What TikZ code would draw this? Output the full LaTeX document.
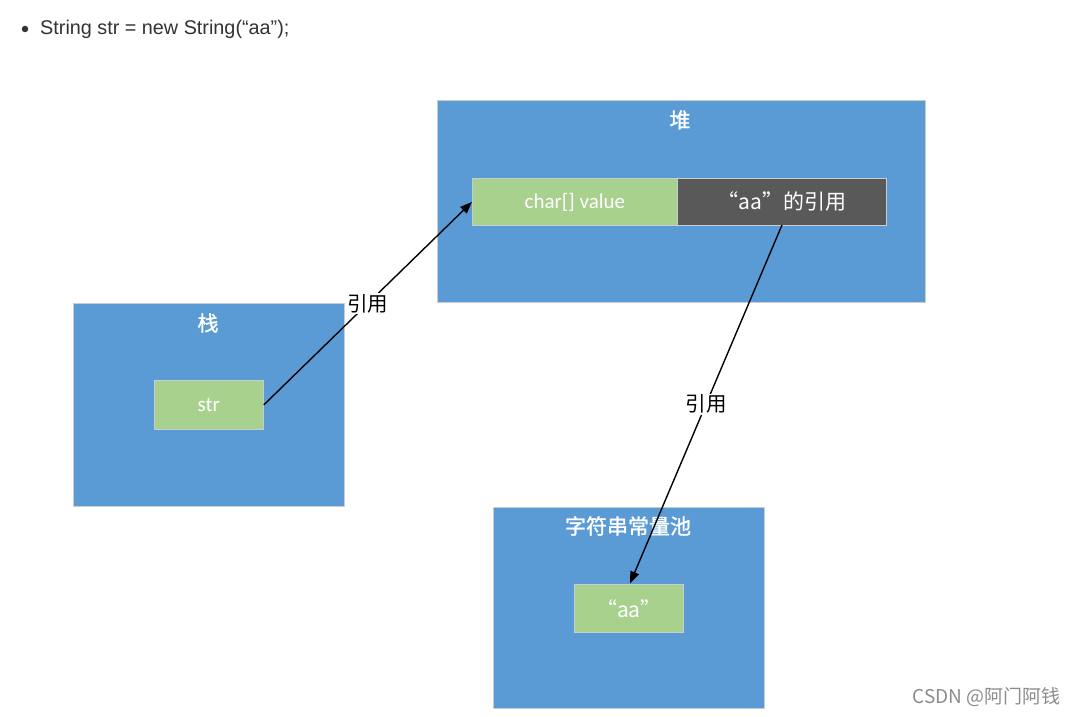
\documentclass[tikz,border=0pt]{standalone}
\usepackage{fontspec}
\setmainfont{Carlito}
\newfontfamily\cjk{Noto Sans CJK SC}
\newfontfamily\cjkbold[FakeBold=1.2]{Noto Sans CJK SC}
\newfontfamily\arial{Liberation Sans}
\usetikzlibrary{arrows.meta}
\definecolor{boxblue}{HTML}{5B9BD5}
\definecolor{boxgreen}{HTML}{A9D18E}
\definecolor{boxdark}{HTML}{595959}
\definecolor{edgegray}{HTML}{C8CDD2}
\definecolor{headtext}{HTML}{333333}
\begin{document}
\begin{tikzpicture}[x=1pt,y=-1pt,
  region/.style={draw=edgegray,line width=1pt,fill=boxblue},
  cell/.style={draw=edgegray,line width=0.8pt,text=white,font=\fontsize{21}{23}\selectfont},
  greencell/.style={cell,fill=boxgreen},
  darkcell/.style={cell,fill=boxdark},
  title/.style={text=white,font=\cjkbold\fontsize{21}{23}\selectfont},
  ref/.style={-{Triangle[length=12pt,width=9pt]},line width=1.4pt,black},
  reflabel/.style={fill=white,inner sep=1pt,font=\cjk\fontsize{20.5}{22}\selectfont}]
\useasboundingbox (0,0) rectangle (1077,717);
\fill[white] (0,0) rectangle (1077,717);
% heading
\node[circle,fill=headtext,inner sep=0pt,minimum size=6.5pt] (bullet) at (25,29) {};
\node[anchor=west,text=headtext,inner sep=0pt,font=\arial\fontsize{19.8}{22}\selectfont] (head) at (40,29) {String str = new String(“aa”);};
% regions
\draw[region] (437,101) rectangle (925,302);
\node[title] (heaptitle) at (680,120) {堆};
\draw[region] (73,303) rectangle (344,506);
\node[title] (stacktitle) at (208,323) {栈};
\draw[region] (493,507) rectangle (764,708);
\node[title] (pooltitle) at (628,526) {字符串常量池};
% cells
\node[greencell,minimum width=205pt,minimum height=47pt,anchor=north west] (value) at (472,178) {char[] value};
\node[darkcell,minimum width=209pt,minimum height=47pt,anchor=north west] (aaref) at (677,178) {\cjk “aa”的引用};
\node[greencell,minimum width=109pt,minimum height=49pt,anchor=north west] (str) at (154,380) {str};
\node[greencell,minimum width=109pt,minimum height=48pt,anchor=north west] (aa) at (574,584) {\cjk “aa”};
% connectors
\coordinate (aastart) at (782,225);
\coordinate (aaend) at (630,583.5);
\draw[ref] (str.east) -- node[reflabel] (l1) {引用} (value.west);
\draw[ref] (aastart) -- node[reflabel] (l2) {引用} (aaend);
% watermark
\node[anchor=east,text=black!45,inner sep=0pt,font=\cjk\fontsize{19}{21}\selectfont] (wm) at (1061,697) {CSDN @阿门阿钱};
\end{tikzpicture}
\end{document}
